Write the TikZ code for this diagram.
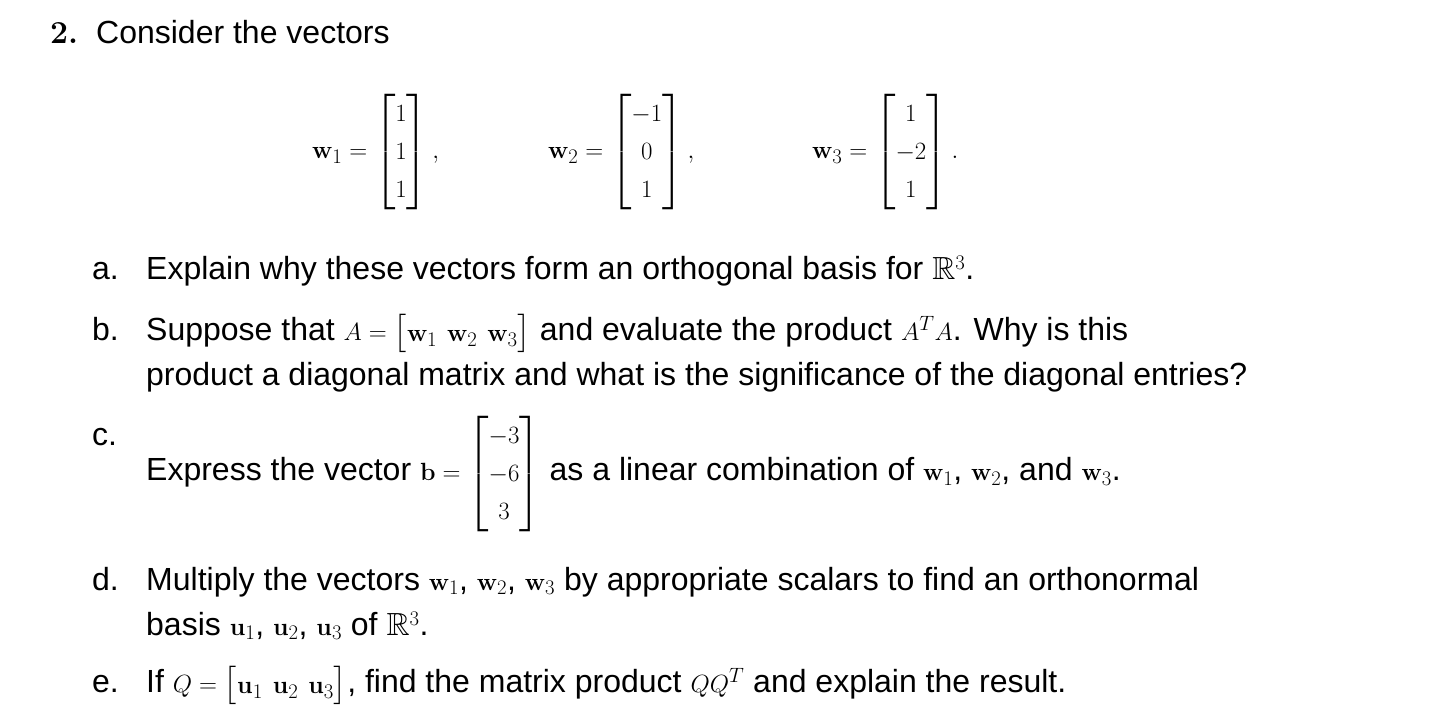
\documentclass[tikz,border=0pt]{standalone}
\usepackage{amsmath,amssymb}
\usepackage[no-math]{fontspec}
\setmainfont{Liberation Sans}
\begin{document}
\begin{tikzpicture}[x=1pt,y=-1pt,
  txt/.style={anchor=base west,inner sep=0pt,font=\fontsize{32}{38}\selectfont},
  mat/.style={anchor=west,inner sep=0pt,font=\fontsize{32}{38}\selectfont}]
\useasboundingbox[fill=white] (0,0) rectangle (1440,723);
\node[txt] (n2) at (50,43) {\textbf{\fontspec{Latin Modern Roman}2.}};
\node[txt] (t0) at (96,43) {Consider the vectors};
\node[mat] (v1) at (312,152) {$\mathbf{w}_1=\begin{bmatrix}1\\1\\1\end{bmatrix},$};
\node[mat] (v2) at (548,152) {$\mathbf{w}_2=\begin{bmatrix}-1\\0\\1\end{bmatrix},$};
\node[mat] (v3) at (812,152) {$\mathbf{w}_3=\begin{bmatrix}1\\-2\\1\end{bmatrix}.$};
\node[txt] (la) at (92,279) {a.};
\node[txt] (ta) at (146,279) {Explain why these vectors form an orthogonal basis for $\mathbb{R}^3$.};
\node[txt] (lb) at (92,340) {b.};
\node[txt] (tb) at (146,340) {Suppose that $A=\begin{bmatrix}\mathbf{w}_1&\mathbf{w}_2&\mathbf{w}_3\end{bmatrix}$ and evaluate the product $A^TA$. Why is this};
\node[txt] (tb2) at (146,385) {product a diagonal matrix and what is the significance of the diagonal entries?};
\node[txt] (lc) at (92,445) {c.};
\node[mat] (tc) at (146,474) {Express the vector $\mathbf{b}=\begin{bmatrix}-3\\-6\\3\end{bmatrix}$ as a linear combination of $\mathbf{w}_1$, $\mathbf{w}_2$, and $\mathbf{w}_3$.};
\node[txt] (ld) at (92,590) {d.};
\node[txt] (td) at (146,590) {Multiply the vectors $\mathbf{w}_1$, $\mathbf{w}_2$, $\mathbf{w}_3$ by appropriate scalars to find an orthonormal};
\node[txt] (td2) at (146,635) {basis $\mathbf{u}_1$, $\mathbf{u}_2$, $\mathbf{u}_3$ of $\mathbb{R}^3$.};
\node[txt] (le) at (92,692) {e.};
\node[txt] (te) at (146,692) {If $Q=\begin{bmatrix}\mathbf{u}_1&\mathbf{u}_2&\mathbf{u}_3\end{bmatrix}$, find the matrix product $QQ^T$ and explain the result.};
\end{tikzpicture}
\end{document}
